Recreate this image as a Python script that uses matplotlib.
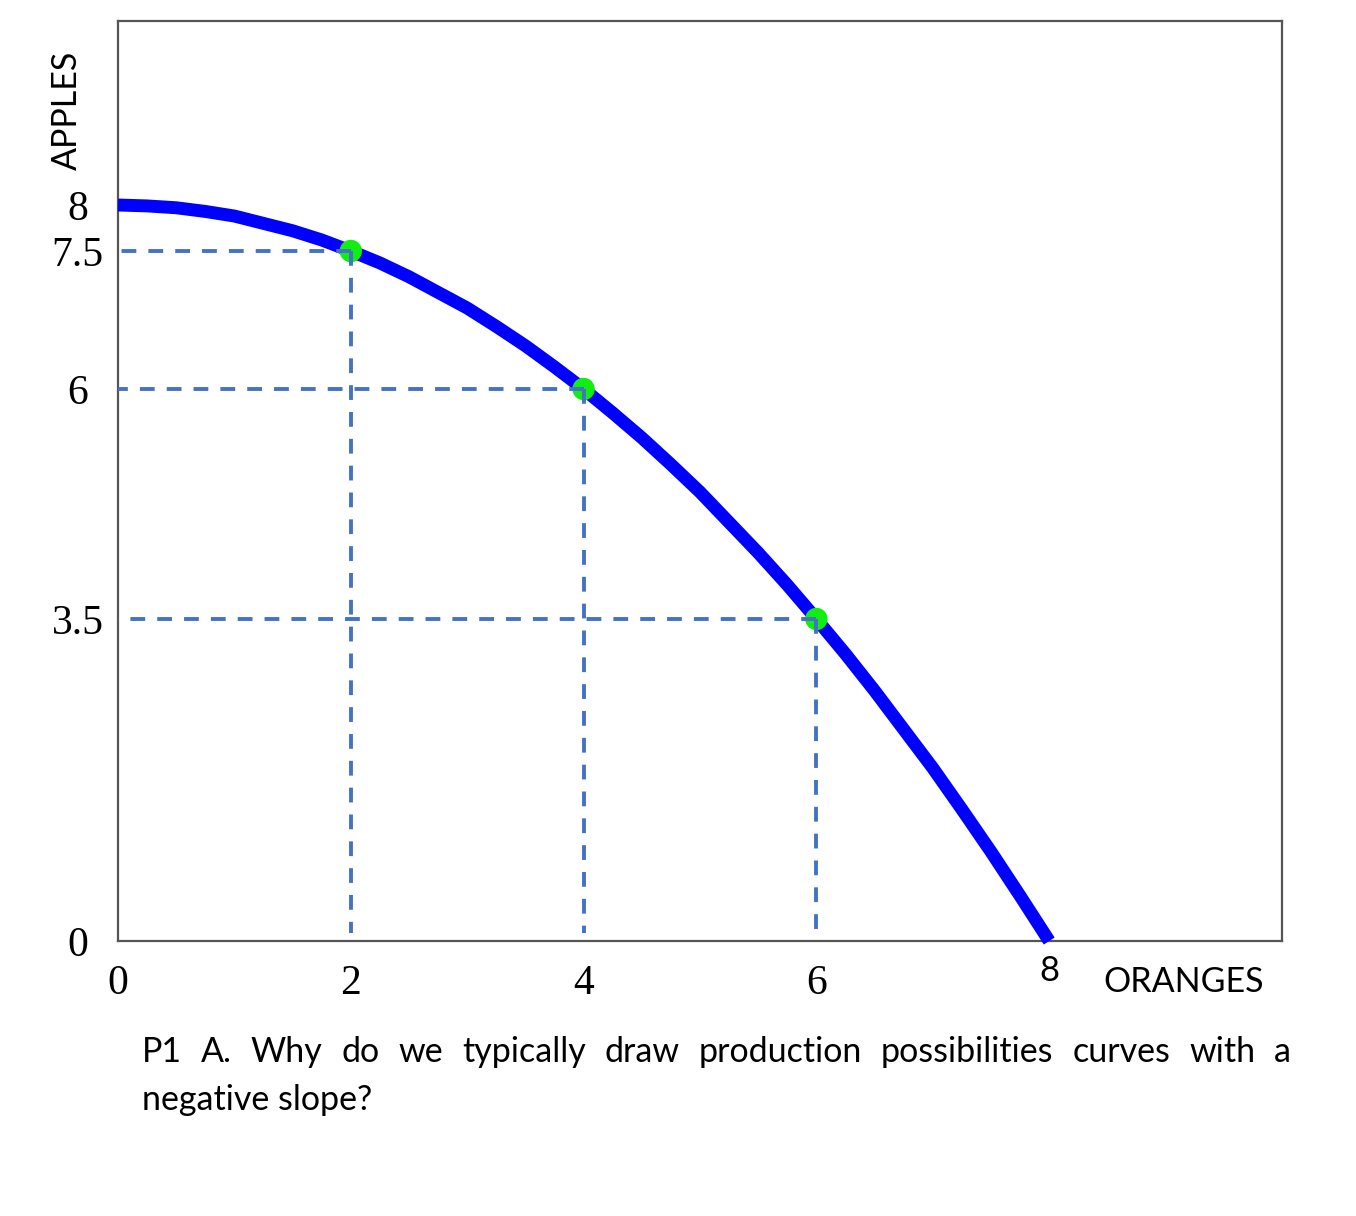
import matplotlib
matplotlib.use('Agg')
import matplotlib.pyplot as plt

# ---- data ----
oranges = [0, 0.25, 0.5, 0.75, 1, 1.25, 1.5, 1.75, 2, 2.25, 2.5, 2.75, 3,
           3.25, 3.5, 3.75, 4, 4.25, 4.5, 4.75, 5, 5.25, 5.5, 5.75, 6,
           6.25, 6.5, 6.75, 7, 7.25, 7.5, 7.75, 8]
apples = [8, 7.99, 7.97, 7.93, 7.88, 7.80, 7.72, 7.62, 7.5, 7.37, 7.22, 7.05,
          6.88, 6.68, 6.47, 6.24, 6, 5.74, 5.47, 5.18, 4.88, 4.55, 4.22, 3.87,
          3.5, 3.12, 2.72, 2.30, 1.88, 1.43, 0.97, 0.49, 0]
marked_oranges = [2, 4, 6]
marked_apples = [7.5, 6, 3.5]
ytick_vals = [0, 3.5, 6, 7.5, 8]
ytick_labels = ['0', '3.5', '6', '7.5', '8']
xtick_vals = [0, 2, 4, 6]
xtick_labels = ['0', '2', '4', '6']
xend_vals = [8]
xend_labels = ['8']
x_label = 'ORANGES'
y_label = 'APPLES'
caption_line1 = 'P1 A. Why do we typically draw production possibilities curves with a'
caption_line2 = 'negative slope?'

W, H = 1356, 1216
fig = plt.figure(figsize=(W / 100, H / 100), dpi=100)
ax = fig.add_axes([118 / W, 1 - 941 / H, (1282 - 118) / W, (941 - 21) / H])
ax.set_xlim(0, 10)
ax.set_ylim(0, 10)

for s in ax.spines.values():
    s.set_color('#555555')
    s.set_linewidth(1.6)

dash_col = '#4472C4'
ax.plot(oranges, apples, color='#0000FF', lw=9.3, solid_capstyle='butt',
        solid_joinstyle='round', zorder=3, clip_on=False)
ax.scatter(marked_oranges, marked_apples, s=260, color='#11EE11', zorder=4,
           edgecolors='none')
for xo, ya in zip(marked_oranges, marked_apples):
    ax.plot([xo, xo], [ya, 0.09], color=dash_col, lw=2.8, dashes=(3.8, 3.1), zorder=5)
    ax.plot([xo, 0], [ya, ya], color=dash_col, lw=2.8, dashes=(3.8, 3.1), zorder=5)

serif = ['Liberation Serif', 'DejaVu Serif']
sans = ['Lato', 'DejaVu Sans']

ax.set_yticks(ytick_vals)
ax.set_yticklabels(ytick_labels, fontfamily=serif, fontsize=30)
for lab in ax.get_yticklabels():
    lab.set_ha('center')
ax.tick_params(axis='y', which='major', length=0, pad=29)

ax.set_xticks(xtick_vals)
ax.set_xticklabels(xtick_labels, fontfamily=serif, fontsize=30)
ax.set_xticks(xend_vals, minor=True)
ax.set_xticklabels(xend_labels, minor=True, fontfamily=sans, fontsize=25)
ax.tick_params(axis='x', which='major', length=0, pad=17)
ax.tick_params(axis='x', which='minor', length=0, pad=10)

fig.text(1103 / W, 1 - 982 / H, x_label, fontfamily=sans, fontsize=24.5,
         ha='left', va='center')
fig.text(67 / W, 1 - 110 / H, y_label, fontfamily=sans, fontsize=24.5,
         rotation=90, ha='center', va='center')

# justified caption
x0, x1 = 142, 1291
base1, base2 = 1062, 1110
fig.canvas.draw()
renderer = fig.canvas.get_renderer()
words = caption_line1.split(' ')
texts = []
widths = []
for w in words:
    t = fig.text(0, 1 - base1 / H, w, fontfamily=sans, fontsize=24.5,
                 ha='left', va='baseline')
    texts.append(t)
    widths.append(t.get_window_extent(renderer).width)
gap = (x1 - x0 - sum(widths)) / (len(words) - 1)
cx = x0
for t, wd in zip(texts, widths):
    t.set_x(cx / W)
    cx += wd + gap
fig.text(x0 / W, 1 - base2 / H, caption_line2, fontfamily=sans, fontsize=24.5,
         ha='left', va='baseline')

fig.savefig('out.png', dpi=100, facecolor='white')
